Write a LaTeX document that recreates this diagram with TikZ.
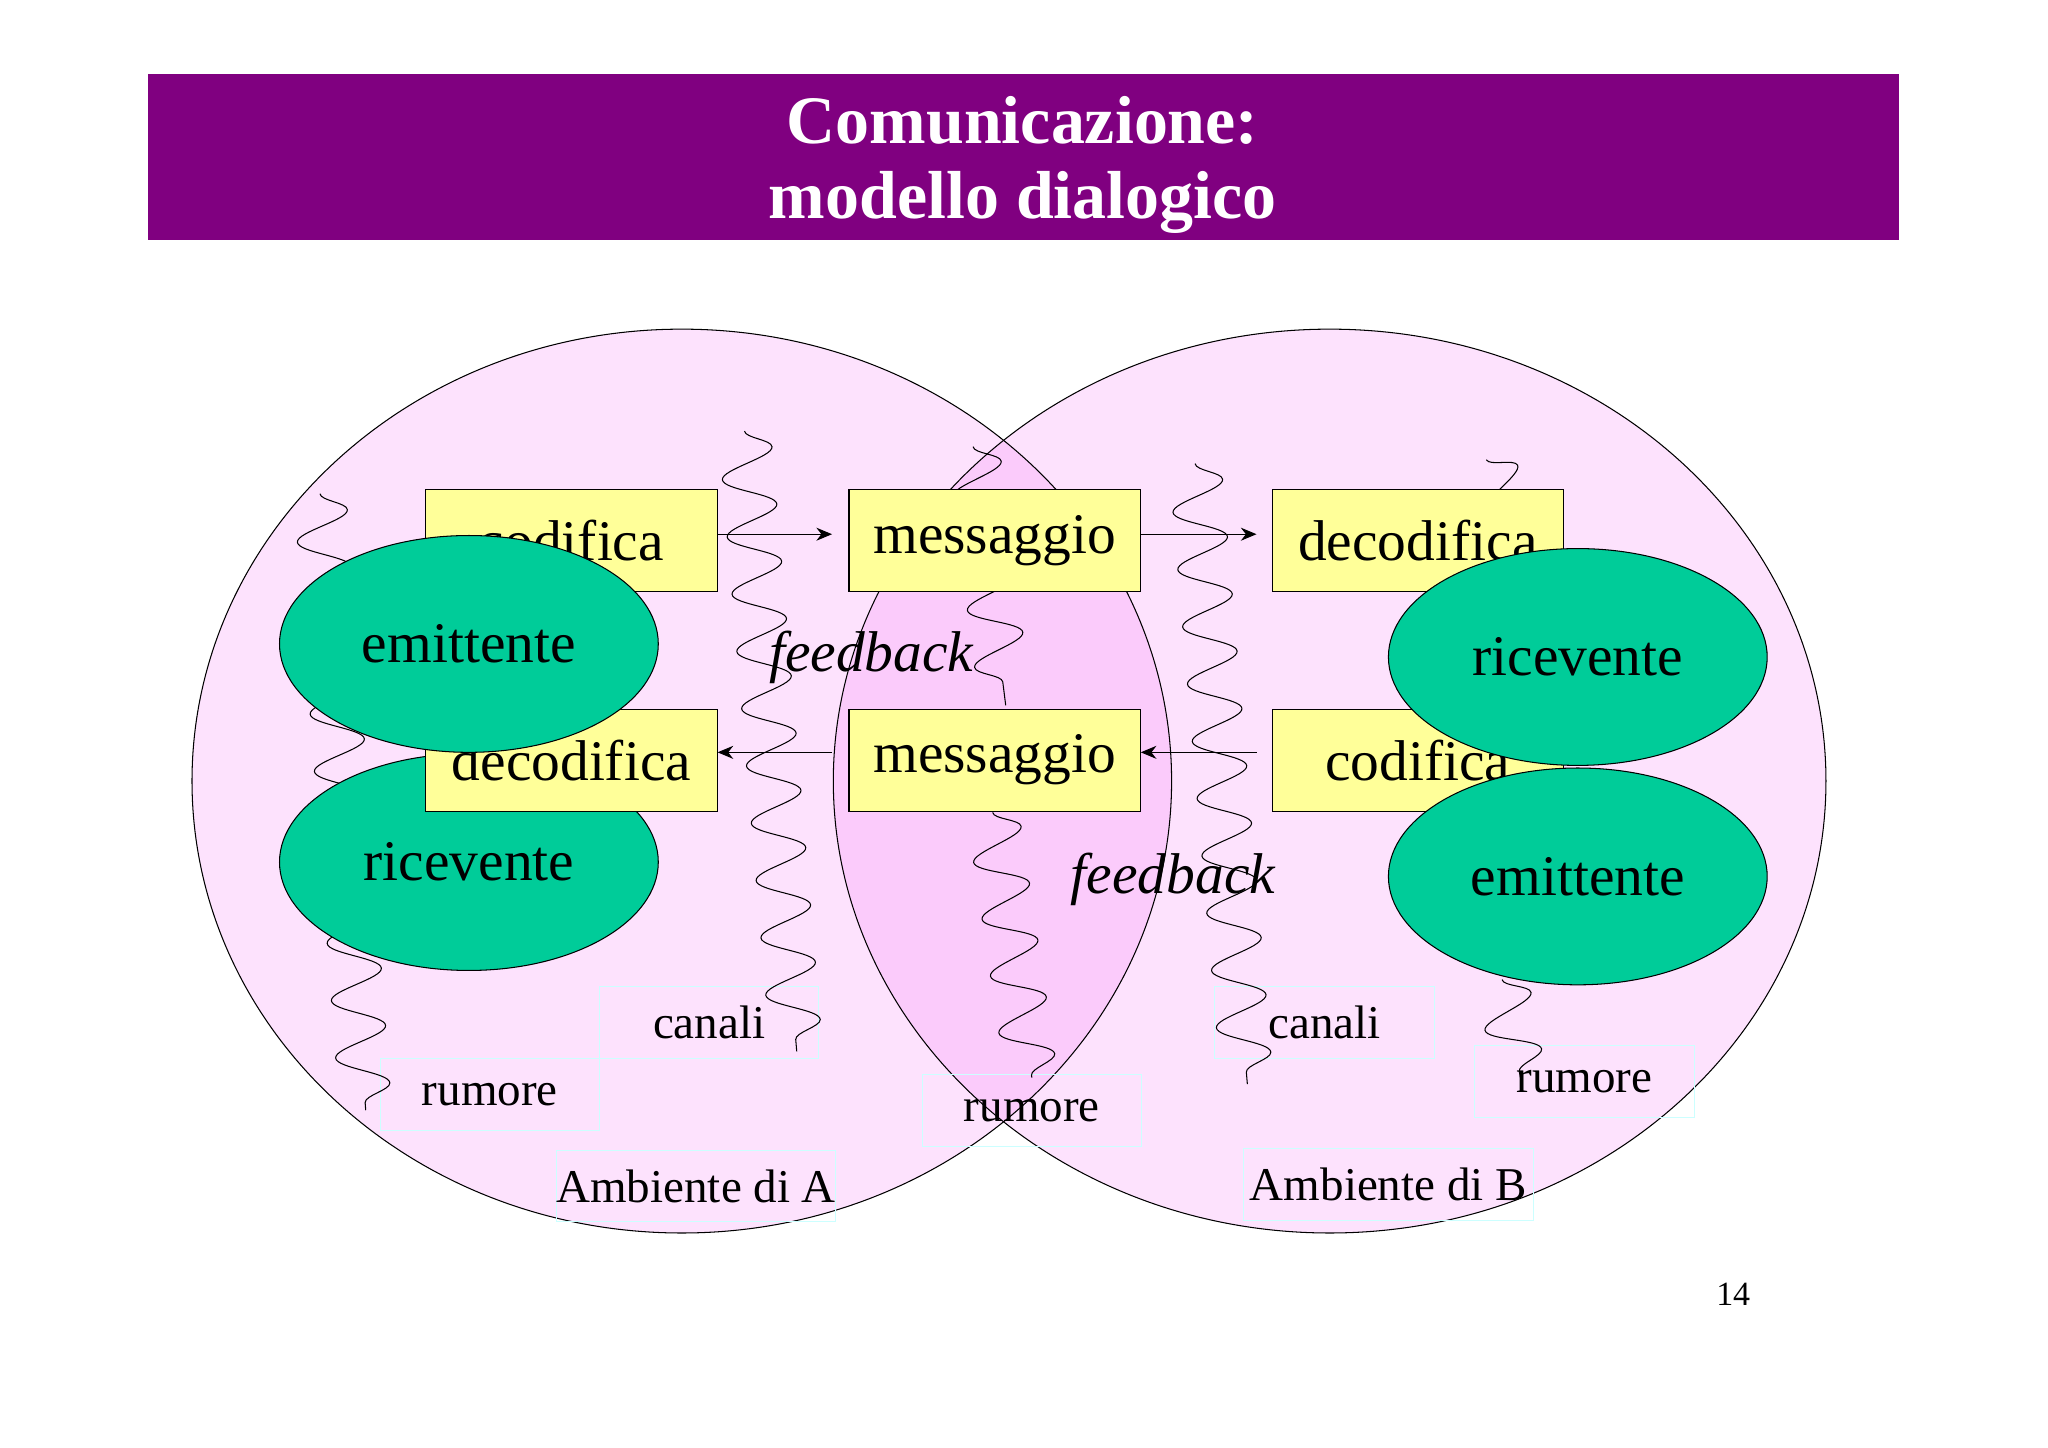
\documentclass[tikz,border=0pt]{standalone}
\usepackage{fontspec}
\setmainfont{Liberation Serif}
\usetikzlibrary{shapes.geometric,decorations.pathmorphing,arrows.meta}
\definecolor{ttl}{HTML}{800080}
\definecolor{pinkA}{HTML}{FDE2FD}
\definecolor{pinkB}{HTML}{FBCBFB}
\definecolor{boxy}{HTML}{FFFF99}
\definecolor{grn}{HTML}{00CC99}
\definecolor{lblc}{HTML}{CCFFFF}
\tikzset{
  ybox/.style={draw,fill=boxy,minimum width=111.5pt,minimum height=39pt,inner sep=0pt,font=\fontsize{22}{24}\selectfont},
  gell/.style={draw,fill=grn,ellipse,minimum width=145pt,minimum height=83pt,inner sep=0pt,font=\fontsize{22}{24}\selectfont},
  lbl/.style={draw=lblc,minimum width=84pt,minimum height=27.5pt,inner sep=0pt,font=\fontsize{18}{20}\selectfont},
  wave/.style={decorate,decoration={snake,amplitude=10pt,segment length=22pt}},
  fb/.style={font=\fontsize{22}{24}\selectfont\itshape},
  arr/.style={-{Stealth[length=6pt,width=5pt]}}
}
\begin{document}
\begin{tikzpicture}[x=0.5pt,y=-0.5pt]
\useasboundingbox (0,0) rectangle (1568,1108);
\fill[white] (0,0) rectangle (1568,1108);
% title
\fill[ttl] (113,57) rectangle (1454,184);
\node[text=white,font=\fontsize{26}{30}\selectfont\bfseries] (t1) at (783,92) {Comunicazione:};
\node[text=white,font=\fontsize{26}{30}\selectfont\bfseries] (t2) at (783,155) {modello dialogico};
% circles
\fill[pinkA] (522,598) ellipse [x radius=375,y radius=346];
\fill[pinkA] (1018,598) ellipse [x radius=380,y radius=346];
\begin{scope}
\clip (522,598) ellipse [x radius=375,y radius=346];
\fill[pinkB] (1018,598) ellipse [x radius=380,y radius=346];
\end{scope}
\draw[thin] (522,598) ellipse [x radius=375,y radius=346];
\draw[thin] (1018,598) ellipse [x radius=380,y radius=346];
% labels
\node[lbl] (canA) at (543,783) {canali};
\node[lbl] (rumA) at (375,838) {rumore};
\node[lbl] (ambA) at (533,908) {Ambiente di A};
\node[lbl] (canB) at (1014,783) {canali};
\node[lbl] (rumM) at (790,850) {rumore};
\node[lbl] (rumB) at (1213,828) {rumore};
\node[lbl,minimum width=111pt] (ambB) at (1063,907) {Ambiente di B};
% waves
\coordinate (w1a) at (245,378); \coordinate (w1b) at (280,850);
\coordinate (w2a) at (570,330); \coordinate (w2b) at (610,805);
\coordinate (w3a) at (745,342); \coordinate (w3b) at (770,540);
\coordinate (w4a) at (760,622); \coordinate (w4b) at (790,825);
\coordinate (w5a) at (915,355); \coordinate (w5b) at (955,830);
\coordinate (w6a) at (1138,352); \coordinate (w6b) at (1160,400);
\coordinate (w7a) at (1150,750); \coordinate (w7b) at (1165,830);
\foreach \a/\b in {w1a/w1b,w2a/w2b,w3a/w3b,w4a/w4b,w5a/w5b,w6a/w6b,w7a/w7b}
  \draw[wave] (\a) -- (\b);
% boxes and ellipses
\node[gell] (ricA) at (359,660) {ricevente};
\node[ybox] (decA) at (437.5,582) {decodifica};
\node[ybox] (codA) at (437.5,414) {codifica};
\node[gell] (emiA) at (359,493) {emittente};
\node[ybox] (msg1) at (761.5,414) {messaggio};
\node[ybox] (msg2) at (761.5,582) {messaggio};
\node[ybox] (decB) at (1085.5,414) {decodifica};
\node[ybox] (codB) at (1085.5,582) {codifica};
\node[gell] (ricB) at (1208,503) {ricevente};
\node[gell] (emiB) at (1208,671) {emittente};
% arrows
\coordinate (m1l) at (637,409); \coordinate (d1l) at (962,409);
\coordinate (c2l) at (962,576); \coordinate (m2l) at (637,576);
\draw[arr] (codA.east |- m1l) -- (m1l);
\draw[arr] (msg1.east |- d1l) -- (d1l);
\draw[arr] (c2l) -- (msg2.east |- c2l);
\draw[arr] (m2l) -- (decA.east |- m2l);
% feedback
\node[fb] (fb1) at (667,503) {feedback};
\node[fb] (fb2) at (898,673) {feedback};
\node[font=\fontsize{13}{15}\selectfont] (pg) at (1327,991) {14};
\end{tikzpicture}
\end{document}
